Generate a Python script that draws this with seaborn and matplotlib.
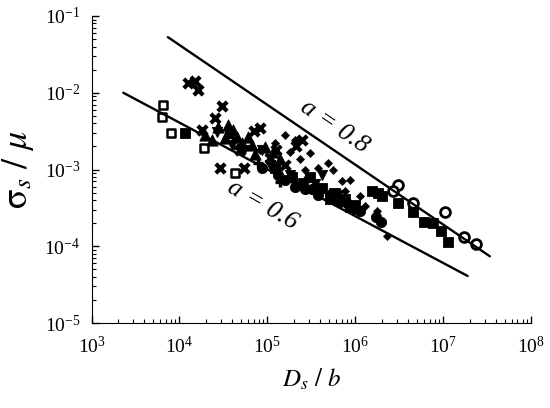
import matplotlib
matplotlib.use('Agg')
import matplotlib.pyplot as plt
import seaborn as sns

# open squares
osq_x = [6.5e3, 6.3e3, 8.0e3, 1.9e4, 4.3e4]
osq_y = [7.0e-3, 4.9e-3, 3.0e-3, 1.93e-3, 9.1e-4]

# filled squares
fsq_x = [1.15e4, 3.04e5, 4.2e5, 7.6e5, 5.85e5, 9.9e5, 2.53e5, 5.1e5, 8.7e5, 1.9e5, 1.22e5,
         1.54e6, 1.8e6, 2.0e6, 3.1e6, 4.5e6, 6.0e6, 7.6e6, 9.4e6, 1.15e7]
fsq_y = [3.0e-3, 7.9e-4, 5.8e-4, 4.1e-4, 5.0e-4, 3.4e-4, 6.6e-4, 4.1e-4, 3.2e-4, 7.9e-4, 1.06e-3,
         5.2e-4, 4.9e-4, 4.5e-4, 3.7e-4, 2.77e-4, 2.1e-4, 2.0e-4, 1.57e-4, 1.13e-4]

# open circles
oc_x = [3.04e6, 2.67e6, 4.5e6, 1.04e7, 1.75e7, 2.34e7]
oc_y = [6.2e-4, 5.3e-4, 3.7e-4, 2.77e-4, 1.31e-4, 1.06e-4]

# filled circles
fc_x = [2.05e5, 8.2e5, 9.4e5, 1.95e6, 1.71e6, 5.1e5, 2.67e5, 3.75e5, 8.7e4, 1.32e5, 6.7e5,
        1.58e5, 3.2e5, 1.12e6]
fc_y = [6.0e-4, 3.5e-4, 3.1e-4, 2.1e-4, 2.38e-4, 4.6e-4, 5.5e-4, 4.6e-4, 1.06e-3, 8.6e-4, 3.8e-4,
        7.4e-4, 5.5e-4, 2.85e-4]

# crosses
cr_x = [1.25e4, 1.5e4, 1.62e4, 3.04e4, 2.53e4, 1.8e4, 2.88e4, 5.4e4,
        8.2e4, 7.0e4, 2.47e5, 2.1e5, 4.9e4, 1.07e5, 1.58e5, 3.75e4, 1.25e5]
cr_y = [1.35e-2, 1.43e-2, 1.09e-2, 6.8e-3, 4.7e-3, 3.3e-3, 1.06e-3, 1.06e-3,
        3.5e-3, 3.2e-3, 2.45e-3, 2.0e-3, 1.82e-3, 1.43e-3, 1.16e-3, 2.85e-3, 1.82e-3]

# triangles
tri_x = [3.56e4, 4.05e4, 6.0e4, 9.4e4, 1.16e5, 3.3e4, 5.1e4, 2.34e4, 1.95e4, 7.2e4,
         4.5e4, 6.7e4, 1.39e5, 2.74e4]
tri_y = [3.84e-3, 3.3e-3, 2.69e-3, 1.99e-3, 1.71e-3, 2.6e-3, 2.24e-3, 2.45e-3, 2.85e-3, 1.57e-3,
         2.69e-3, 2.11e-3, 1.35e-3, 3.6e-3]

# inverted triangles
itri_x = [2.67e4, 3.95e4, 8.7e4, 1.8e5, 3.5e5, 4.2e5, 6.3e5, 5.5e4, 1.07e5]
itri_y = [3.1e-3, 2.11e-3, 1.82e-3, 8.6e-4, 6.4e-4, 8.4e-4, 4.7e-4, 1.82e-3, 1.16e-3]

# plus signs
pl_x = [1.39e5, 7.8e4, 4.6e4, 2.67e5, 5.1e5]
pl_y = [6.8e-4, 1.23e-3, 1.93e-3, 7.0e-4, 5.0e-4]

# diamonds
dm_x = [1.58e5, 1.22e5, 3.04e5, 4.9e5, 5.55e5, 7.0e5, 3.75e5, 1.75e6,
        2.28e6, 1.12e6, 2.34e5, 1.8e5, 1.28e6, 8.7e5, 8.2e4, 2.05e5, 2.67e5, 7.6e5]
dm_y = [2.85e-3, 2.24e-3, 1.66e-3, 1.23e-3, 1.0e-3, 7.0e-4, 1.06e-3, 2.85e-4,
        1.35e-4, 4.5e-4, 1.35e-3, 1.71e-3, 3.3e-4, 7.4e-4, 1.82e-3, 2.45e-3, 1.0e-3, 5.2e-4]

# fitted lines
line08_x = [7.4e3, 3.4e7]
line08_y = [5.3e-2, 7.4e-5]
line06_x = [2.3e3, 1.9e7]
line06_y = [1.0e-2, 4.1e-5]

sns.set_style('ticks')
plt.rcParams['font.family'] = ['Liberation Serif', 'DejaVu Serif']
plt.rcParams['mathtext.fontset'] = 'stix'
plt.rcParams['xtick.direction'] = 'in'
plt.rcParams['ytick.direction'] = 'in'
for key in ['text.color', 'axes.labelcolor', 'xtick.color', 'ytick.color', 'axes.edgecolor']:
    plt.rcParams[key] = 'black'

fig = plt.figure(figsize=(5.5, 4.08), dpi=100)
ax = fig.add_axes([0.1664, 0.2083, 0.7991, 0.7525])

k = dict(ax=ax, legend=False)
sns.scatterplot(x=osq_x, y=osq_y, marker='s', s=30, facecolor='white', edgecolor='black', linewidth=1.8, **k)
sns.scatterplot(x=fsq_x, y=fsq_y, marker='s', s=55, color='black', edgecolor='black', **k)
sns.scatterplot(x=oc_x, y=oc_y, marker='o', s=50, facecolor='white', edgecolor='black', linewidth=2, **k)
sns.scatterplot(x=fc_x, y=fc_y, marker='o', s=55, color='black', edgecolor='black', **k)
sns.scatterplot(x=cr_x, y=cr_y, marker='x', s=45, color='black', linewidth=3, **k)
sns.scatterplot(x=tri_x, y=tri_y, marker='^', s=65, color='black', edgecolor='black', **k)
sns.scatterplot(x=itri_x, y=itri_y, marker='v', s=55, color='black', edgecolor='black', **k)
sns.scatterplot(x=pl_x, y=pl_y, marker='+', s=50, color='black', linewidth=2.4, **k)
sns.scatterplot(x=dm_x, y=dm_y, marker='D', s=18, color='black', edgecolor='black', **k)

sns.lineplot(x=line08_x, y=line08_y, color='black', linewidth=1.7, ax=ax)
sns.lineplot(x=line06_x, y=line06_y, color='black', linewidth=1.7, ax=ax)

ax.set_xscale('log')
ax.set_yscale('log')
ax.set_xlim(1e3, 1e8)
ax.set_ylim(1e-5, 1e-1)
sns.despine(ax=ax)
ax.tick_params(which='major', length=5, width=1, labelsize=14)
ax.tick_params(axis='x', which='major', pad=9)
ax.tick_params(axis='y', which='major', pad=8)
ax.tick_params(which='minor', length=3, width=0.8)

ax.text(5.85e5, 3.6e-3, 'a = 0.8', rotation=-34, fontsize=19, style='italic',
        ha='center', va='center')
ax.text(8.7e4, 3.4e-4, 'a = 0.6', rotation=-30, fontsize=19, style='italic',
        ha='center', va='center')

ax.set_xlabel(r'$D_s\ /\ b$', fontsize=18, labelpad=7)
ax.set_ylabel(r'$\mathrm{\sigma}_s\ /\ \mu$', fontsize=26, labelpad=6)

fig.savefig('out.png', dpi=100)
